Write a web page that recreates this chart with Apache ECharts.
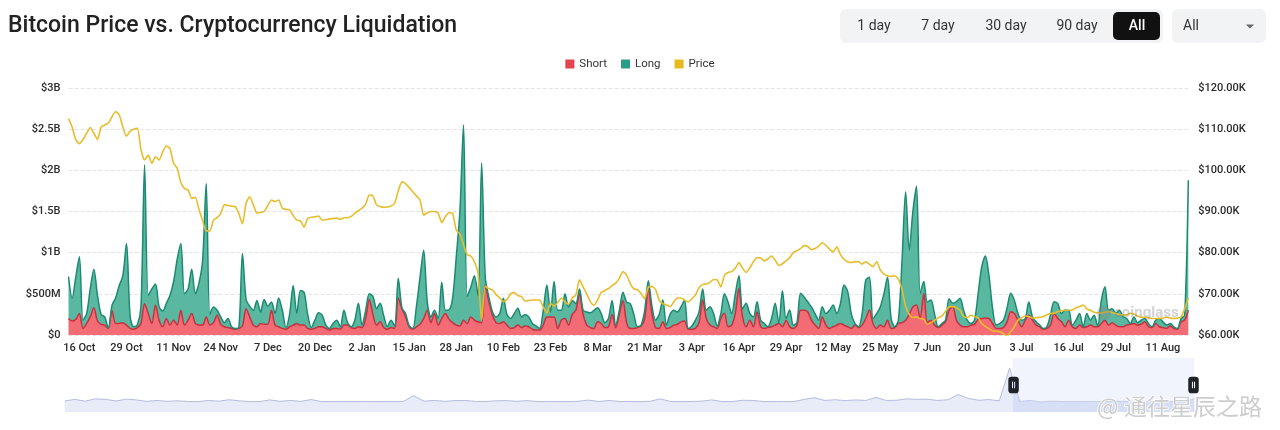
<!DOCTYPE html>
<html>
<head>
<meta charset="utf-8">
<script src="https://cdn.jsdelivr.net/npm/echarts@6/dist/echarts.min.js"></script>
<style>
html,body{margin:0;padding:0;background:#fff;}
#chart{width:1280px;height:430px;}
</style>
</head>
<body>
<div id="chart"></div>
<script>
// ---------- DATA ----------
// daily short liquidations, $M (13 Oct .. 18 Aug)
const shortLiq = [200,170,190,260,80,140,220,330,170,130,
120,80,300,140,140,150,120,80,70,90,
140,380,260,140,360,180,100,200,120,180,
120,300,120,180,260,140,120,120,220,120,
150,240,130,100,90,80,70,80,110,320,
220,120,100,140,130,130,300,120,100,80,
70,100,120,140,120,120,80,70,80,100,
100,80,60,80,80,70,120,120,90,80,
100,90,200,430,250,120,160,90,70,90,
80,450,320,220,100,70,100,130,200,300,
150,260,120,200,260,190,150,120,110,180,
140,220,180,160,150,600,400,240,150,140,
160,120,80,90,120,90,110,100,70,60,
60,120,220,220,220,80,180,200,120,250,
300,500,250,120,90,80,160,140,90,100,
250,90,250,420,150,80,80,90,110,200,
587,250,90,80,160,80,90,120,130,160,
170,70,70,80,150,425,200,120,100,80,
200,263,100,120,263,567,220,100,180,100,
283,100,80,90,100,120,140,100,180,100,
80,120,300,300,280,180,120,80,220,120,
80,100,120,140,120,100,80,120,90,120,
200,304,140,80,120,100,180,80,90,140,
150,180,250,340,364,200,506,150,180,120,
90,120,160,304,344,180,120,100,100,120,
130,190,200,205,200,140,80,80,90,160,
283,260,180,100,180,240,180,120,100,70,
80,120,263,200,160,100,180,100,80,120,
90,100,120,100,100,140,180,120,150,120,
100,100,120,130,140,120,130,160,100,90,
140,100,90,80,110,80,70,160,180,300];

// daily long liquidations, $M
const longLiq = [509,275,510,690,100,120,340,470,310,120,
100,0,60,310,460,570,990,150,30,30,
210,1685,220,420,260,164,190,185,360,470,
800,810,380,380,540,360,510,780,1620,130,
190,60,90,50,110,20,10,10,880,110,
130,180,320,140,300,220,100,140,350,220,
20,150,480,120,420,400,170,20,100,170,
140,40,20,60,100,30,180,30,10,100,
285,30,100,70,220,200,225,140,30,90,
30,240,10,40,10,10,244,570,830,100,
70,40,80,440,40,114,300,830,1390,2370,
330,360,540,320,1940,100,60,40,70,120,
285,130,120,170,204,130,140,120,70,50,
20,180,387,60,430,220,120,300,220,170,
80,60,50,160,180,220,170,120,60,100,
170,30,50,100,250,300,170,10,10,100,
73,100,90,170,265,40,160,180,150,180,
255,10,40,100,130,135,100,224,160,30,
60,237,300,140,237,153,100,285,80,120,
122,80,60,10,100,265,10,438,20,204,
40,30,206,160,120,160,140,100,124,140,
220,264,140,240,487,430,180,20,10,140,
468,396,60,180,220,400,520,120,10,40,
750,1560,780,1160,1446,300,144,250,245,130,
10,20,20,136,41,225,325,200,80,20,
50,310,630,755,520,180,40,60,90,170,
223,160,80,80,20,160,40,40,20,10,
20,130,142,180,100,204,120,20,100,140,
10,160,60,140,10,280,407,180,170,143,
200,123,80,10,80,30,50,40,40,10,
40,100,70,40,30,20,10,40,60,1580];

// daily BTC price, $K
const price = [112.6,110.5,107.5,106.5,107.5,109,110.4,109,107.5,110.5,
111,111.5,113,114.3,113.5,110.5,108.3,109.5,110,110.2,
105,102.5,103.7,101.7,103.3,102.5,104.5,105.9,105.3,101.7,
100.5,97,95.6,95.2,93.2,93.4,90.5,87.8,85.3,85.3,
87.9,88.5,89.5,91.6,91.5,91.3,91.2,89.5,87,92,
93.6,91.6,89.6,89.8,90,91.5,92.8,92.4,92.8,90.8,
90.5,90.4,89,87.9,87.7,86.2,88.3,88.6,88.7,88.9,
87.9,88,88.2,88.3,88.4,88.1,88.5,88.5,88.8,89.6,
90.2,90.8,91.8,94,93.8,91.6,91.2,91,91.1,91.3,
92,95,97.2,96.8,95.8,94.8,93.8,92.8,89.1,89.7,
90,90,89.6,87.3,88.8,89.7,89.5,85.5,84.5,82,
79.5,79.2,77.8,75,63.6,71.8,71.3,70.9,69.8,69,
68.1,68.6,70,70.3,69.6,69.3,68.2,68.4,68.5,68.5,
68.5,66.8,65.3,67.7,67,67.9,69,68,67.5,69,
69.7,73.4,71.7,70,68.1,67.2,68.5,70.3,70.8,71.3,
72,72.6,73.8,75.4,74.6,72.5,71.2,71,70.1,68.8,
71.6,71.8,71,68.5,67.6,67.3,66.9,68,69,69,
68.5,68,68.8,69.7,71.5,72.3,72.4,72.8,73.5,73.4,
71.7,74.5,75.2,75.4,76.2,77.6,76.2,75.2,76.3,77.8,
78.8,78.7,78,78.5,79.2,78.2,76.9,77.3,78,78.8,
80,80.5,81,81.7,81.5,80.7,81,81.6,82.4,81.8,
80.8,80.2,81.4,79.6,78.4,77.8,77.6,77.8,77.8,77.2,
77.8,77.2,76.6,77.8,75.8,74.8,74.4,74.2,74.4,73.6,
71,66.9,65,64.2,64.4,64,63.8,62.6,63,63.6,
64.2,64.6,65.7,66.9,66.9,66.6,66,64.5,64.2,64.8,
64.5,64.2,62.8,62.1,61.5,61,60.9,60.8,60.3,59.8,
60.8,62,63.6,64.2,64.6,64.5,64.1,64.2,64.3,64.5,
64.9,65.2,65.3,65.7,65.9,66,66,66.1,66.6,66.9,
67.3,66.3,66,65.5,65.4,65.3,65.5,65.7,65.4,65.2,
65,64.9,64.9,65.3,65.1,64.6,64.3,64.3,64.2,64,
64,64,64.1,64.3,64.1,64,64.1,64.4,66.4,68.9];

// coarse full-history liquidation sparkline (slider background), $M
const historyLiq = [600,1500,500,1800,1500,600,1600,1200,400,900,
400,700,300,250,900,500,1300,700,300,250,
1200,400,900,350,1400,300,250,300,250,300,
250,300,250,400,3500,500,900,400,800,900,
350,300,700,800,400,800,300,250,300,250,
400,1100,300,900,300,300,250,400,1800,300,
250,300,500,1200,300,250,1000,900,300,250,
300,250,1500,2400,900,1300,800,1200,900,2600,
900,1000,1800,1500,1600,900,1300,4200,2000,1000,
1400,700,19000,360,920,90,520,300,220,280,
300,300,425,385,400,200,250,140,260,200,
1880];

const leftTickLabels = ['$0','$500M','$1B','$1.5B','$2B','$2.5B','$3B'];
const rightTickLabels = ['$60.00K','$70.00K','$80.00K','$90.00K','$100.00K','$110.00K','$120.00K'];
const legendNames = ['Short','Long','Price'];
const rangeButtons = ['1 day','7 day','30 day','90 day','All'];

const monthNames = ['Jan','Feb','Mar','Apr','May','Jun','Jul','Aug','Sep','Oct','Nov','Dec'];
const DAY = 86400000;
const firstDay = Date.UTC(2025, 9, 13);
function fmtDate(t){ const d = new Date(t); return d.getUTCDate() + ' ' + monthNames[d.getUTCMonth()]; }
const categories = shortLiq.map((_, i) => fmtDate(firstDay + i * DAY));
const historyCategories = historyLiq.map((_, i) => fmtDate(firstDay + (i - 92) * 17.5 * DAY));

// ---------- CHART ----------
const FONT = 'Roboto, "Noto Sans", sans-serif';
const chart = echarts.init(document.getElementById('chart'), null, {renderer: 'canvas'});

const axisLabelStyle = {fontFamily: FONT, fontSize: 11, fontWeight: 500, color: '#2b2b2b'};

const option = {
  animation: false,
  backgroundColor: '#ffffff',
  title: {
    text: 'Bitcoin Price vs. Cryptocurrency Liquidation',
    left: 3, top: 10,
    textStyle: {fontFamily: FONT, fontSize: 23, fontWeight: 500, color: '#222222'}
  },
  legend: {
    data: legendNames,
    top: 53, left: 'center',
    icon: 'rect', itemWidth: 9, itemHeight: 9, itemGap: 14,
    selectedMode: false,
    textStyle: {fontFamily: FONT, fontSize: 11.5, color: '#333333'}
  },
  grid: [
    {left: 68.5, right: 91.7, top: 88, height: 247, containLabel: false, outerBoundsMode: 'none'},
    {left: 62, right: 88, top: 600, height: 20, show: false, containLabel: false, outerBoundsMode: 'none'}
  ],
  xAxis: [
    {
      type: 'category', data: categories, boundaryGap: false, gridIndex: 0,
      axisLine: {show: false}, axisTick: {show: false}, splitLine: {show: false},
      axisLabel: Object.assign({
        interval: (i) => i >= 3 && (i - 3) % 13 === 0,
        margin: 8
      }, axisLabelStyle)
    },
    {type: 'category', data: historyCategories, boundaryGap: false, gridIndex: 1, show: false}
  ],
  yAxis: [
    {
      type: 'value', min: 0, max: 3000, interval: 500, position: 'left', gridIndex: 0,
      axisLine: {show: false}, axisTick: {show: false},
      splitLine: {show: true, lineStyle: {type: 'dashed', color: '#e4e4e4', width: 1}},
      axisLabel: Object.assign({formatter: (v) => leftTickLabels[Math.round(v / 500)], margin: 8}, axisLabelStyle)
    },
    {
      type: 'value', min: 60, max: 120, interval: 10, position: 'right', gridIndex: 0,
      axisLine: {show: false}, axisTick: {show: false}, splitLine: {show: false},
      axisLabel: Object.assign({formatter: (v) => rightTickLabels[Math.round((v - 60) / 10)], margin: 10}, axisLabelStyle)
    },
    {type: 'value', gridIndex: 1, show: false}
  ],
  dataZoom: [{
    type: 'slider', xAxisIndex: 1,
    start: 83.9, end: 100,
    left: 62, right: 88, top: 358, height: 54,
    backgroundColor: 'rgba(0,0,0,0)', borderColor: 'rgba(0,0,0,0)',
    fillerColor: 'rgba(140,165,240,0.12)',
    showDetail: false, brushSelect: false, moveHandleSize: 0,
    handleIcon: 'path://M3,0 L7,0 Q10,0 10,3 L10,13 Q10,16 7,16 L3,16 Q0,16 0,13 L0,3 Q0,0 3,0 Z M3.5,5 L3.5,11 L4.5,11 L4.5,5 Z M5.5,5 L5.5,11 L6.5,11 L6.5,5 Z',
    handleSize: '31%',
    handleStyle: {color: '#1f2329', borderColor: '#1f2329', borderWidth: 0},
    dataBackground: {
      lineStyle: {color: '#9aa5cf', width: 0.7, opacity: 1},
      areaStyle: {color: '#e8ebf8', opacity: 1}
    },
    selectedDataBackground: {
      lineStyle: {color: '#bcc5e6', width: 0.7, opacity: 1},
      areaStyle: {color: '#e2e7f8', opacity: 1}
    }
  }],
  series: [
    {
      name: 'Short', type: 'line', stack: 'liq', data: shortLiq,
      xAxisIndex: 0, yAxisIndex: 0,
      smooth: 0.3, symbol: 'none', showSymbol: false,
      itemStyle: {color: '#e5434f'},
      lineStyle: {color: '#c8303f', width: 1.5},
      areaStyle: {color: '#f36b74', opacity: 1},
      z: 2
    },
    {
      name: 'Long', type: 'line', stack: 'liq', data: longLiq,
      xAxisIndex: 0, yAxisIndex: 0,
      smooth: 0.3, symbol: 'none', showSymbol: false,
      itemStyle: {color: '#2a9d8a'},
      lineStyle: {color: '#1b8a72', width: 1.5},
      areaStyle: {color: '#5ab8a0', opacity: 1},
      z: 2
    },
    {
      name: 'Price', type: 'line', data: price,
      xAxisIndex: 0, yAxisIndex: 1,
      smooth: 0.2, symbol: 'none', showSymbol: false,
      itemStyle: {color: '#e6b91e'},
      lineStyle: {color: '#e8bd2c', width: 1.6},
      z: 4
    },
    {
      name: 'history', type: 'line', data: historyLiq,
      xAxisIndex: 1, yAxisIndex: 2,
      symbol: 'none', showSymbol: false, silent: true,
      lineStyle: {opacity: 0, width: 0}
    }
  ],
  graphic: [
    {type: 'rect', silent: true, shape: {x: 840, y: 9, width: 323, height: 34, r: 6}, style: {fill: '#f2f3f5'}},
    {type: 'rect', silent: true, shape: {x: 1113, y: 12, width: 47, height: 28, r: 5}, style: {fill: '#111111'}},
    {type: 'text', silent: true, x: 874, y: 26, style: {text: rangeButtons[0], fill: '#333333', font: '14px Roboto, sans-serif', align: 'center', verticalAlign: 'middle'}},
    {type: 'text', silent: true, x: 938, y: 26, style: {text: rangeButtons[1], fill: '#333333', font: '14px Roboto, sans-serif', align: 'center', verticalAlign: 'middle'}},
    {type: 'text', silent: true, x: 1006, y: 26, style: {text: rangeButtons[2], fill: '#333333', font: '14px Roboto, sans-serif', align: 'center', verticalAlign: 'middle'}},
    {type: 'text', silent: true, x: 1077, y: 26, style: {text: rangeButtons[3], fill: '#333333', font: '14px Roboto, sans-serif', align: 'center', verticalAlign: 'middle'}},
    {type: 'text', silent: true, x: 1137, y: 26, style: {text: rangeButtons[4], fill: '#ffffff', font: '500 14px Roboto, sans-serif', align: 'center', verticalAlign: 'middle'}},
    {type: 'rect', silent: true, shape: {x: 1172, y: 9, width: 94, height: 34, r: 6}, style: {fill: '#f2f3f5'}},
    {type: 'text', silent: true, x: 1183, y: 26, style: {text: 'All', fill: '#333333', font: '14px Roboto, sans-serif', align: 'left', verticalAlign: 'middle'}},
    {type: 'polygon', silent: true, shape: {points: [[1246, 24.5], [1254, 24.5], [1250, 28.5]]}, style: {fill: '#666666'}},
    {type: 'circle', silent: true, z: 50, shape: {cx: 1104, cy: 313, r: 7}, style: {fill: 'rgba(130,130,130,0.35)'}},
    {type: 'text', silent: true, z: 50, x: 1114, y: 313, style: {text: 'coinglass', fill: 'rgba(130,130,130,0.35)', font: 'bold 15px Roboto, sans-serif', align: 'left', verticalAlign: 'middle'}},
    {type: 'text', silent: true, z: 100, x: 1097, y: 406, style: {text: '@ 通往星辰之路', fill: 'rgba(200,200,200,0.9)', stroke: '#ffffff', lineWidth: 1.5, font: '23px "Noto Sans CJK SC", sans-serif', align: 'left', verticalAlign: 'middle'}}
  ]
};

chart.setOption(option);
</script>
</body>
</html>
